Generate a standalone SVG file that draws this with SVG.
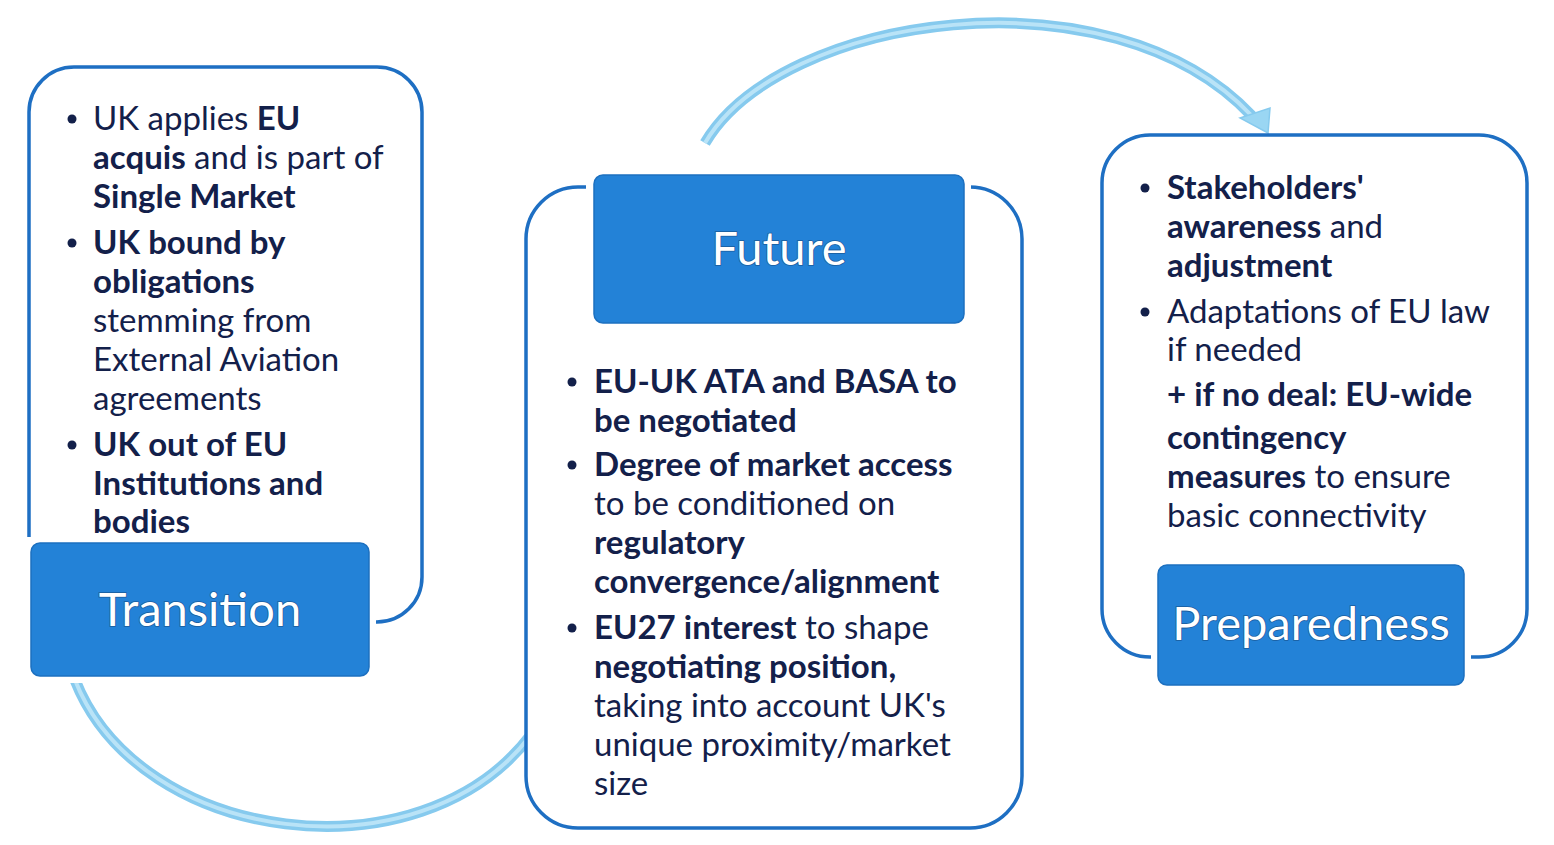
<svg xmlns="http://www.w3.org/2000/svg" width="1554" height="845" viewBox="0 0 1554 845">
<defs>
<style>
.frame{fill:#ffffff;stroke:#1e6fc3;stroke-width:3.5}
.halo{fill:#ffffff}
.title{fill:#2382d7;stroke:#1c70c0;stroke-width:1.5}
.ttext{font-family:Lato,"Liberation Sans",sans-serif;font-size:47px;fill:#ffffff;stroke:#1a5c9e;stroke-width:1.6;paint-order:stroke;text-anchor:middle}
.body{font-family:Lato,"Liberation Sans",sans-serif;font-size:33px;fill:#13204a}
.b{font-weight:bold}
.dot{fill:#13204a}
.arrowOuter{fill:none;stroke:#86caee;stroke-width:11;stroke-linecap:butt}
.arrowInner{fill:none;stroke:#b9e3f7;stroke-width:4}
</style>
</defs>
<rect width="1554" height="845" fill="#ffffff"/>
<g id="connectors">
<path class="arrowOuter" d="M705,143 C780,15 1110,-35 1252,116"/>
<path class="arrowInner" d="M705,143 C780,15 1110,-35 1252,116"/>
<polygon points="1240,118 1270,108 1268,133" fill="#9ad6f3" stroke="#86caee" stroke-width="1.5"/>
<path class="arrowOuter" d="M75,680 C140,845 420,880 530,736"/>
<path class="arrowInner" d="M75,680 C140,845 420,880 530,736"/>
</g>
<g id="transition">
<rect class="frame" x="29" y="67" width="393" height="555" rx="45"/>
<rect class="halo" x="22" y="537" width="354" height="146"/>
<rect class="title" x="31" y="543" width="338" height="133" rx="9"/>
<text class="ttext" x="200" y="626">Transition</text>
<g class="body">
<circle class="dot" cx="72" cy="119" r="4.5"/>
<text x="93" y="130">UK applies <tspan class="b">EU</tspan></text>
<text x="93" y="169"><tspan class="b">acquis</tspan> and is part of</text>
<text x="93" y="208" class="b">Single Market</text>
<circle class="dot" cx="72" cy="243" r="4.5"/>
<text x="93" y="254" class="b">UK bound by</text>
<text x="93" y="293" class="b">obligations</text>
<text x="93" y="332">stemming from</text>
<text x="93" y="371">External Aviation</text>
<text x="93" y="410">agreements</text>
<circle class="dot" cx="72" cy="445" r="4.5"/>
<text x="93" y="456" class="b">UK out of EU</text>
<text x="93" y="495" class="b">Institutions and</text>
<text x="93" y="533" class="b">bodies</text>
</g>
</g>
<g id="future">
<rect class="frame" x="526" y="187" width="496" height="641" rx="52"/>
<rect class="halo" x="586" y="168" width="385" height="162"/>
<rect class="title" x="594" y="175" width="370" height="148" rx="9"/>
<text class="ttext" x="779" y="265">Future</text>
<g class="body">
<circle class="dot" cx="572" cy="382" r="4.5"/>
<text x="594" y="393" class="b">EU-UK ATA and BASA to</text>
<text x="594" y="432" class="b">be negotiated</text>
<circle class="dot" cx="572" cy="465" r="4.5"/>
<text x="594" y="476" class="b">Degree of market access</text>
<text x="594" y="515">to be conditioned on</text>
<text x="594" y="554" class="b">regulatory</text>
<text x="594" y="593" class="b">convergence/alignment</text>
<circle class="dot" cx="572" cy="628" r="4.5"/>
<text x="594" y="639"><tspan class="b">EU27 interest</tspan> to shape</text>
<text x="594" y="678" class="b">negotiating position,</text>
<text x="594" y="717">taking into account UK's</text>
<text x="594" y="756">unique proximity/market</text>
<text x="594" y="795">size</text>
</g>
</g>
<g id="preparedness">
<rect class="frame" x="1102" y="135" width="425" height="522" rx="48"/>
<rect class="halo" x="1151" y="558" width="320" height="134"/>
<rect class="title" x="1158" y="565" width="306" height="120" rx="9"/>
<text class="ttext" x="1311" y="640">Preparedness</text>
<g class="body">
<circle class="dot" cx="1145" cy="188" r="4.5"/>
<text x="1167" y="199" class="b">Stakeholders'</text>
<text x="1167" y="238"><tspan class="b">awareness</tspan> and</text>
<text x="1167" y="277" class="b">adjustment</text>
<circle class="dot" cx="1145" cy="312" r="4.5"/>
<text x="1167" y="323">Adaptations of EU law</text>
<text x="1167" y="361">if needed</text>
<text x="1167" y="406" class="b">+ if no deal: EU-wide</text>
<text x="1167" y="449" class="b">contingency</text>
<text x="1167" y="488"><tspan class="b">measures</tspan> to ensure</text>
<text x="1167" y="527">basic connectivity</text>
</g>
</g>
</svg>
